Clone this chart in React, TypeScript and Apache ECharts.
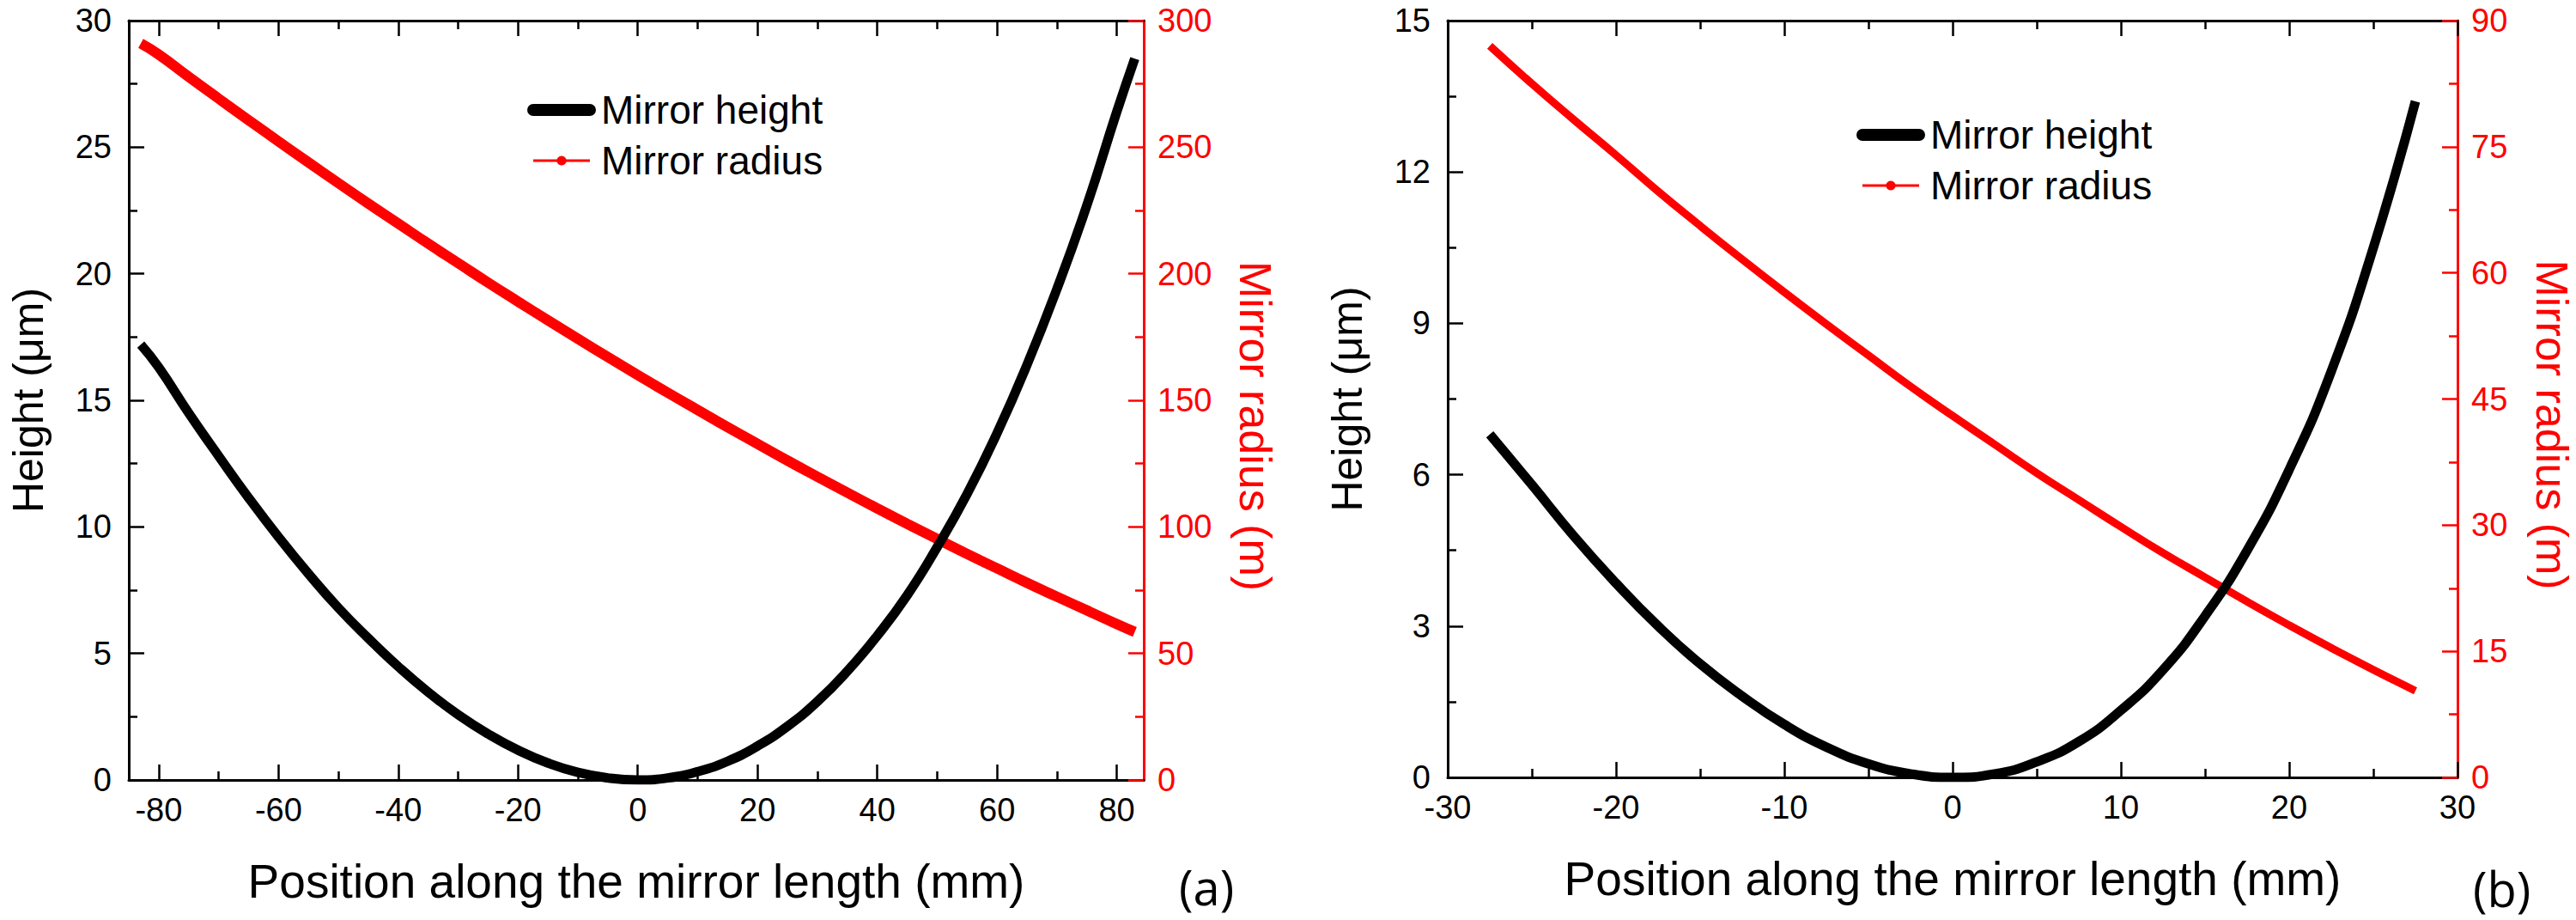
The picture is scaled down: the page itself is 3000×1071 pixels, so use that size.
import React, { useEffect, useRef } from "react";
import * as echarts from "echarts";

// Panel (a): 170 mm mirror
const positionA = [-83, -80, -75, -70, -65, -60, -55, -50, -45, -40, -35, -30, -25, -20, -15, -10, -5, 0, 5, 10, 15, 20, 25, 30, 35, 40, 45, 50, 55, 60, 65, 70, 75, 80, 83];
const heightA = [17.2, 16.3, 14.5, 12.8, 11.15, 9.6, 8.15, 6.8, 5.6, 4.48, 3.47, 2.58, 1.82, 1.18, 0.67, 0.3, 0.08, 0, 0.08, 0.33, 0.74, 1.34, 2.12, 3.1, 4.3, 5.7, 7.3, 9.2, 11.3, 13.7, 16.4, 19.4, 22.7, 26.4, 28.5];
const radiusA = [291, 286.6, 277.8, 269.2, 260.7, 252.3, 244, 235.8, 227.7, 219.8, 211.9, 204.2, 196.5, 189, 181.6, 174.3, 167.1, 160, 153, 146.2, 139.4, 132.8, 126.2, 119.8, 113.5, 107.3, 101.2, 95.2, 89.3, 83.6, 77.9, 72.4, 67, 61.6, 58.5];
const majorTicksA = [-80, -60, -40, -20, 0, 20, 40, 60, 80];
const minorTicksA = [-70, -50, -30, -10, 10, 30, 50, 70];

// Panel (b): 55 mm mirror
const positionB = [-27.5, -25, -22.5, -20, -17.5, -15, -12.5, -10, -7.5, -5, -2.5, 0, 2.5, 5, 7.5, 10, 12.5, 15, 17.5, 20, 22.5, 25, 27.5];
const heightB = [6.8, 5.8, 4.78, 3.85, 3.0, 2.25, 1.61, 1.05, 0.6, 0.27, 0.07, 0, 0.07, 0.31, 0.71, 1.33, 2.13, 3.2, 4.5, 6.1, 8.05, 10.5, 13.4];
const radiusB = [87, 82.5, 78.2, 74, 69.7, 65.6, 61.6, 57.7, 53.9, 50.2, 46.5, 43, 39.6, 36.2, 33, 29.8, 26.7, 23.8, 20.9, 18.1, 15.4, 12.8, 10.3];

const FONT = "'Liberation Sans', Arial, sans-serif";
const RED = "#ff0000";
const BLACK = "#000000";

const zip = (xs: number[], ys: number[]) => xs.map((x, i) => [x, ys[i]]);

const tickStyle = (color: string, len: number) => ({
  show: true,
  inside: true,
  length: len,
  lineStyle: { color, width: 2.5 },
});

const axisLineStyle = (color: string) => ({ show: true, onZero: false, lineStyle: { color, width: 3 } });

const minorTickStyle = (color: string) => ({
  show: true,
  splitNumber: 2,
  length: 10,
  lineStyle: { color, width: 2.5 },
});

function buildOption() {
  const xName = "Position along the mirror length (mm)";
  const xNameStyle = { fontSize: 55, color: BLACK, fontFamily: FONT };
  const labelStyle = (color: string, margin: number) => ({
    show: true,
    color,
    fontSize: 38,
    lineHeight: 30,
    fontFamily: FONT,
    margin,
  });

  const xAxis: any[] = [
    // (a) bottom: major ticks, labels and title
    {
      type: "value", gridIndex: 0, position: "bottom", min: -85, max: 84.5,
      axisLine: axisLineStyle(BLACK),
      axisTick: { ...tickStyle(BLACK, 18), customValues: majorTicksA },
      axisLabel: { ...labelStyle(BLACK, 20), customValues: majorTicksA },
      splitLine: { show: false },
      name: xName, nameLocation: "middle", nameGap: 90, nameTextStyle: xNameStyle,
    },
    // (a) top frame
    {
      type: "value", gridIndex: 0, position: "top", min: -85, max: 84.5,
      axisLine: axisLineStyle(BLACK),
      axisTick: { ...tickStyle(BLACK, 18), customValues: majorTicksA },
      axisLabel: { show: false },
      splitLine: { show: false },
    },
    // (a) bottom minor ticks
    {
      type: "value", gridIndex: 0, position: "bottom", min: -85, max: 84.5,
      axisLine: { show: false, onZero: false },
      axisTick: { ...tickStyle(BLACK, 10), customValues: minorTicksA },
      axisLabel: { show: false },
      splitLine: { show: false },
    },
    // (a) top minor ticks
    {
      type: "value", gridIndex: 0, position: "top", min: -85, max: 84.5,
      axisLine: { show: false, onZero: false },
      axisTick: { ...tickStyle(BLACK, 10), customValues: minorTicksA },
      axisLabel: { show: false },
      splitLine: { show: false },
    },
    // (b) bottom
    {
      type: "value", gridIndex: 1, position: "bottom", min: -30, max: 30, interval: 10,
      axisLine: axisLineStyle(BLACK),
      axisTick: tickStyle(BLACK, 18),
      minorTick: minorTickStyle(BLACK),
      axisLabel: labelStyle(BLACK, 20),
      splitLine: { show: false },
      name: xName, nameLocation: "middle", nameGap: 90, nameTextStyle: xNameStyle,
    },
    // (b) top frame
    {
      type: "value", gridIndex: 1, position: "top", min: -30, max: 30, interval: 10,
      axisLine: axisLineStyle(BLACK),
      axisTick: tickStyle(BLACK, 18),
      minorTick: minorTickStyle(BLACK),
      axisLabel: { show: false },
      splitLine: { show: false },
    },
  ];

  const yLeft = (grid: number, max: number, interval: number) => ({
    type: "value", gridIndex: grid, position: "left", min: 0, max, interval,
    axisLine: axisLineStyle(BLACK),
    axisTick: tickStyle(BLACK, 18),
    minorTick: minorTickStyle(BLACK),
    axisLabel: labelStyle(BLACK, 20),
    splitLine: { show: false },
    name: "Height (\u03bcm)", nameLocation: "middle", nameGap: 92,
    nameTextStyle: { fontSize: 50, color: BLACK, fontFamily: FONT },
  });

  const yRight = (grid: number, max: number, interval: number, gap: number) => ({
    type: "value", gridIndex: grid, position: "right", min: 0, max, interval,
    axisLine: axisLineStyle(RED),
    axisTick: tickStyle(RED, 18),
    minorTick: minorTickStyle(RED),
    axisLabel: labelStyle(RED, 16),
    splitLine: { show: false },
    name: "Mirror radius (m)", nameLocation: "middle", nameGap: gap, nameRotate: -90,
    nameTextStyle: { fontSize: 52, color: RED, fontFamily: FONT, padding: [0, 0, 0, 60] },
  });

  const yAxis = [yLeft(0, 30, 5), yRight(0, 300, 50, 104), yLeft(1, 15, 3), yRight(1, 90, 15, 84)];

  const radiusSeries = (name: string, xi: number, yi: number, data: number[][], width: number) => ({
    type: "line", name, xAxisIndex: xi, yAxisIndex: yi, data,
    smooth: true, showSymbol: false, symbol: "circle",
    lineStyle: { color: RED, width }, itemStyle: { color: RED }, z: 2,
  });
  const heightSeries = (name: string, xi: number, yi: number, data: number[][]) => ({
    type: "line", name, xAxisIndex: xi, yAxisIndex: yi, data,
    smooth: true, symbol: "none",
    lineStyle: { color: BLACK, width: 11 }, itemStyle: { color: BLACK }, z: 3,
  });

  const legendItems = [
    { name: "Mirror height", lineStyle: { color: BLACK, width: 14, cap: "round" }, itemStyle: { color: BLACK } },
    { name: "Mirror radius", lineStyle: { color: RED, width: 3 }, itemStyle: { color: RED } },
  ];
  const legendBase = {
    orient: "vertical", padding: 0, itemWidth: 66, itemHeight: 14, itemGap: 13,
    selectedMode: false,
    textStyle: { fontSize: 46, color: BLACK, fontFamily: FONT, padding: [0, 0, 0, 8] },
    data: legendItems,
  };

  return {
    animation: false,
    backgroundColor: "#ffffff",
    textStyle: { fontFamily: FONT },
    grid: [
      { left: 150, top: 24, width: 1182, height: 884 },
      { left: 1686, top: 24, width: 1176, height: 881 },
    ],
    xAxis,
    yAxis,
    legend: [
      { ...legendBase, left: 614, top: 105 },
      { ...legendBase, left: 2162, top: 134 },
    ],
    series: [
      radiusSeries("Mirror radius", 0, 1, zip(positionA, radiusA), 12),
      heightSeries("Mirror height", 0, 0, zip(positionA, heightA)),
      radiusSeries("Mirror radius", 4, 3, zip(positionB, radiusB), 9),
      heightSeries("Mirror height", 4, 2, zip(positionB, heightB)),
    ],
    graphic: [
      { type: "text", left: 1373, top: 1004, style: { text: "(a)", fontSize: 56, fontFamily: "'Open Sans', sans-serif", fill: BLACK } },
      { type: "text", left: 2880, top: 1006, style: { text: "(b)", fontSize: 56, fontFamily: "'Open Sans', sans-serif", fill: BLACK } },
    ],
  };
}

export default function App() {
  const ref = useRef<HTMLDivElement>(null);
  useEffect(() => {
    if (!ref.current) return;
    const chart = echarts.init(ref.current, undefined, { renderer: "svg" });
    chart.setOption(buildOption() as any);
    return () => chart.dispose();
  }, []);
  return (
    <div
      ref={ref}
      style={{ position: "fixed", left: 0, top: 0, width: 3000, height: 1071, background: "#fff" }}
    />
  );
}
